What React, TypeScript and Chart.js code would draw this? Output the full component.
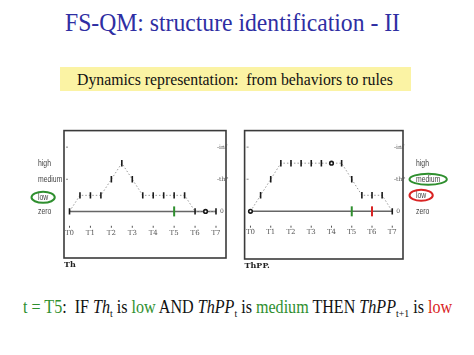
import React, { useEffect, useRef } from "react";
import { Chart, registerables } from "chart.js";

Chart.register(...registerables);

// ---- data ----
const timeLabels = ["T0", "T1", "T2", "T3", "T4", "T5", "T6", "T7"];
const levelNames = ["zero", "low", "medium", "high"];
const landmarkNames = ["0", "th*", "inf"]; // landmarks at level 0, 2, 4
const landmarkLevels = [0, 2, 4];

const thTimes = [0, 0.5, 1, 1.5, 2, 2.5, 3, 3.5, 4, 4.5, 5, 5.5, 6, 6.5, 7];
const thLevels = [0, 1, 1, 1, 2, 3, 2, 1, 1, 1, 1, 1, 0, 0, 0];
const thOpenPoints = [6.5];

const thppTimes = [0, 0.5, 1, 1.5, 2, 2.5, 3, 3.5, 4, 4.5, 5, 5.5, 6, 6.5, 7];
const thppLevels = [0, 1, 2, 3, 3, 3, 3, 3, 3, 3, 2, 1, 1, 1, 0];
const thppOpenPoints = [0, 4];

const thGreenMarks = [5];
const thRedMarks: number[] = [];
const thppGreenMarks = [5];
const thppRedMarks = [6];

const thGreenCircled = ["low"];
const thRedCircled: string[] = [];
const thppGreenCircled = ["medium"];
const thppRedCircled = ["low"];

const GREEN = "#2f8f2f";
const RED = "#d92323";

type PanelProps = {
  name: string;
  times: number[];
  levels: number[];
  openPoints: number[];
  greenMarks: number[];
  redMarks: number[];
  greenCircled: string[];
  redCircled: string[];
  side: "left" | "right";
  left: number;
  top: number;
  width: number;
  height: number;
  padding: { left: number; right: number; top: number; bottom: number };
  xMin: number;
  xMax: number;
  yMin: number;
  yMax: number;
};

function Panel(p: PanelProps) {
  const ref = useRef<HTMLCanvasElement>(null);
  useEffect(() => {
    if (!ref.current) return;
    const pts = p.times.map((t, i) => ({ x: t, y: p.levels[i] }));
    const styles = p.times.map((t) => (p.openPoints.includes(t) ? "circle" : "line"));
    const radii = p.times.map((t) => (p.openPoints.includes(t) ? 1.8 : 3.2));

    const decor = {
      id: "decor",
      afterDraw(chart: any) {
        const ctx = chart.ctx as CanvasRenderingContext2D;
        const a = chart.chartArea;
        const xs = chart.scales.x;
        const ys = chart.scales.y;
        ctx.save();
        // box
        ctx.strokeStyle = "#3a3a3a";
        ctx.lineWidth = 1.6;
        ctx.strokeRect(a.left, a.top, a.right - a.left, a.bottom - a.top);

        // small left-edge ticks
        ctx.strokeStyle = "#888";
        ctx.lineWidth = 1;
        [2, 4].forEach((lv) => {
          const y = ys.getPixelForValue(lv);
          ctx.beginPath();
          ctx.moveTo(a.left + 2, y);
          ctx.lineTo(a.left + 4, y);
          ctx.stroke();
        });

        // time labels
        ctx.fillStyle = "#555";
        ctx.font = '7px "DejaVu Serif"';
        ctx.textAlign = "center";
        ctx.textBaseline = "middle";
        timeLabels.forEach((lab, i) => {
          const x = xs.getPixelForValue(i);
          const y = ys.getPixelForValue(-1.33);
          ctx.fillText(lab, x, y);
          ctx.fillRect(x - 0.5, y - 7, 1, 2);
        });

        // landmark labels (right, inside box)
        ctx.font = '6px "DejaVu Serif"';
        ctx.textAlign = "left";
        landmarkNames.forEach((lab, i) => {
          const lv = landmarkLevels[i];
          const y = ys.getPixelForValue(lv);
          if (lv === 0) {
            ctx.fillText(lab, xs.getPixelForValue(7) + 4, y);
          } else {
            ctx.fillText("-" + lab, a.right - 9, y);
          }
        });

        // marks on the zero line
        const drawMark = (t: number, color: string) => {
          const x = xs.getPixelForValue(t);
          const y = ys.getPixelForValue(0);
          ctx.strokeStyle = color;
          ctx.lineWidth = 2;
          ctx.beginPath();
          ctx.moveTo(x, y - 5);
          ctx.lineTo(x, y + 5);
          ctx.stroke();
        };
        p.greenMarks.forEach((t) => drawMark(t, GREEN));
        p.redMarks.forEach((t) => drawMark(t, RED));

        // level names with circles
        ctx.font = '9px "Liberation Sans"';
        ctx.textBaseline = "middle";
        ctx.textAlign = "left";
        const sx = 0.76;
        levelNames.forEach((lab, i) => {
          const y = ys.getPixelForValue(i) + (i === 1 && p.side === "left" ? 2 : 0);
          const x = p.side === "left" ? a.left - 26 : a.right + 13;
          const w = ctx.measureText(lab).width * sx;
          ctx.save();
          ctx.translate(x, y);
          ctx.scale(sx, 1);
          ctx.fillStyle = "#444";
          ctx.fillText(lab, 0, 0);
          ctx.restore();
          let col: string | null = null;
          if (p.greenCircled.includes(lab)) col = GREEN;
          if (p.redCircled.includes(lab)) col = RED;
          if (col) {
            ctx.strokeStyle = col;
            ctx.lineWidth = 2;
            ctx.beginPath();
            ctx.ellipse(x + w / 2, y, w / 2 + 6.5, 5.5, 0, 0, Math.PI * 2);
            ctx.stroke();
          }
        });

        // panel name
        ctx.fillStyle = "#222";
        ctx.font = 'bold 8px "DejaVu Serif"';
        ctx.textAlign = "left";
        ctx.textBaseline = "alphabetic";
        ctx.fillText(p.name, a.left, a.bottom + 9);
        ctx.restore();
      },
    };

    const chart = new Chart(ref.current, {
      type: "line",
      data: {
        datasets: [
          {
            data: pts,
            borderColor: "#9a9a9a",
            borderWidth: 1,
            borderDash: [1.5, 2],
            pointStyle: styles as any,
            pointRadius: radii,
            pointRotation: 90,
            pointBorderColor: "#1a1a1a",
            pointBackgroundColor: "#fff",
            pointBorderWidth: 1.6,
            tension: 0,
          },
          {
            data: [
              { x: 0, y: 0 },
              { x: 7, y: 0 },
            ],
            borderColor: "#666",
            borderWidth: 1.5,
            pointRadius: 0,
          },
        ],
      },
      options: {
        responsive: false,
        animation: false,
        events: [],
        layout: { padding: p.padding },
        plugins: { legend: { display: false }, tooltip: { enabled: false } },
        scales: {
          x: { type: "linear", min: p.xMin, max: p.xMax, display: false },
          y: { type: "linear", min: p.yMin, max: p.yMax, display: false },
        },
      },
      plugins: [decor],
    });
    return () => chart.destroy();
  }, []);
  return (
    <canvas
      ref={ref}
      width={p.width}
      height={p.height}
      style={{ position: "absolute", left: p.left, top: p.top, width: p.width, height: p.height }}
    />
  );
}

const serif = '"Liberation Serif", "Times New Roman", serif';

export default function App() {
  const sub = (t: string) => (
    <span style={{ fontSize: 11, position: "relative", top: 4, lineHeight: 0 }}>{t}</span>
  );
  return (
    <div
      style={{
        position: "absolute",
        left: 0,
        top: 0,
        width: 474,
        height: 355,
        background: "#fff",
        overflow: "hidden",
        fontFamily: serif,
      }}
    >
      <div
        style={{
          position: "absolute",
          left: 65,
          top: 10,
          fontSize: 25,
          lineHeight: "25px",
          color: "#2e2ea3",
          whiteSpace: "nowrap",
          transform: "scaleX(0.946)",
          transformOrigin: "0 0",
        }}
      >
        FS-QM: structure identification - II
      </div>
      <div
        style={{
          position: "absolute",
          left: 60,
          top: 67,
          width: 351,
          height: 24,
          background: "#fbf3a4",
        }}
      />
      <div
        style={{
          position: "absolute",
          left: 77,
          top: 72,
          fontSize: 16,
          lineHeight: "16px",
          color: "#111",
          whiteSpace: "pre",
          transform: "scaleX(0.985)",
          transformOrigin: "0 0",
        }}
      >
        {"Dynamics representation:  from behaviors to rules"}
      </div>
      <Panel
        name="Th"
        times={thTimes}
        levels={thLevels}
        openPoints={thOpenPoints}
        greenMarks={thGreenMarks}
        redMarks={thRedMarks}
        greenCircled={thGreenCircled}
        redCircled={thRedCircled}
        side="left"
        left={30}
        top={125}
        width={202}
        height={146}
        padding={{ left: 34, right: 6, top: 2, bottom: 13 }}
        xMin={-0.263}
        xMax={7.478}
        yMin={-2.9}
        yMax={5.03}
      />
      <Panel
        name="ThPP."
        times={thppTimes}
        levels={thppLevels}
        openPoints={thppOpenPoints}
        greenMarks={thppGreenMarks}
        redMarks={thppRedMarks}
        greenCircled={thppGreenCircled}
        redCircled={thppRedCircled}
        side="right"
        left={239}
        top={125}
        width={216}
        height={146}
        padding={{ left: 2, right: 52, top: 2, bottom: 12 }}
        xMin={-0.29}
        xMax={7.53}
        yMin={-2.97}
        yMax={5.03}
      />
      <div
        style={{
          position: "absolute",
          left: 23,
          top: 298,
          fontSize: 18,
          lineHeight: "18px",
          color: "#111",
          whiteSpace: "pre",
          transform: "scaleX(0.894)",
          transformOrigin: "0 0",
        }}
      >
        <span style={{ color: GREEN }}>t = T5</span>
        {":  IF "}
        <i>Th</i>
        {sub("t")}
        {" is "}
        <span style={{ color: GREEN }}>low</span>
        {" AND "}
        <i>ThPP</i>
        {sub("t")}
        {" is "}
        <span style={{ color: GREEN }}>medium</span>
        {" THEN "}
        <i>ThPP</i>
        {sub("t+1")}
        {" is "}
        <span style={{ color: RED }}>low</span>
      </div>
    </div>
  );
}
